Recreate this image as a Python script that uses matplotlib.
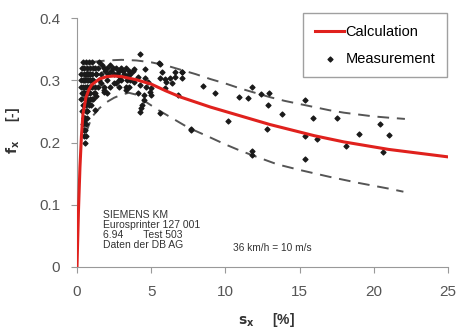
import numpy as np
import matplotlib
matplotlib.use("Agg")
import matplotlib.pyplot as plt

plt.rcParams['font.family'] = ['Liberation Sans', 'DejaVu Sans']

# calculation curve
calc_x = [0, 0.1, 0.2, 0.3, 0.4, 0.6, 0.8, 1.0, 1.5, 2.0, 2.5, 3.0, 4.0, 5.0, 6.0, 7.0,
          8.0, 9.0, 10, 11, 12, 13, 14, 15, 16, 17, 18, 19, 20, 21, 22, 23, 24, 25]
calc_y = [0, 0.09, 0.16, 0.21, 0.245, 0.272, 0.285, 0.293, 0.302, 0.306, 0.307, 0.306, 0.301,
          0.294, 0.283, 0.273, 0.265, 0.257, 0.250, 0.243, 0.236, 0.229, 0.223, 0.217, 0.211,
          0.206, 0.201, 0.197, 0.193, 0.189, 0.186, 0.183, 0.180, 0.177]

# scatter band (dashed)
upper_x = [0.4, 0.6, 0.8, 1.2, 2.0, 3.0, 4.0, 5.0, 6.0, 7.0, 8.0, 9.0, 10, 11, 12, 13, 14, 15,
           16, 17, 18, 19, 20, 21, 22.1]
upper_y = [0.27, 0.305, 0.322, 0.330, 0.332, 0.333, 0.332, 0.329, 0.324, 0.317, 0.310, 0.302,
           0.295, 0.287, 0.280, 0.273, 0.267, 0.262, 0.257, 0.252, 0.248, 0.245, 0.242, 0.240,
           0.238]
lower_x = [0.6, 1.0, 1.5, 2.0, 2.5, 3.0, 3.5, 4.0, 4.6, 5.5, 6.5, 7.5, 9.0, 10, 11, 12, 13.5,
           15, 17, 19, 21, 22]
lower_y = [0.215, 0.241, 0.255, 0.265, 0.272, 0.277, 0.280, 0.277, 0.266, 0.252, 0.238, 0.224,
           0.208, 0.197, 0.187, 0.178, 0.165, 0.156, 0.145, 0.135, 0.126, 0.121]

# measurement points
meas_x = [
    # dense cluster at small slip
    0.25, 0.3, 0.3, 0.35, 0.35, 0.4, 0.4, 0.4, 0.45, 0.45, 0.5, 0.5, 0.5, 0.5, 0.55, 0.55,
    0.55, 0.6, 0.6, 0.6, 0.6, 0.65, 0.65, 0.7, 0.7, 0.7, 0.7, 0.75, 0.75, 0.8, 0.8, 0.8,
    0.85, 0.85, 0.9, 0.9, 0.9, 0.95, 1.0, 1.0, 1.0, 1.05, 1.1, 1.1, 1.15, 1.2, 1.2, 1.25,
    0.3, 0.35, 0.4, 0.45, 0.5, 0.55, 0.6, 0.65, 0.7, 0.75, 0.8, 0.85, 0.9, 1.0, 0.45, 0.6,
    0.5, 0.4, 0.55, 0.65, 0.5, 0.6, 0.7, 0.45, 0.55, 0.5,
    # band along the peak
    1.3, 1.4, 1.5, 1.5, 1.6, 1.7, 1.8, 1.8, 1.9, 2.0, 2.0, 2.1, 2.2, 2.3, 2.4, 2.5, 2.5,
    2.6, 2.7, 2.8, 2.9, 3.0, 3.0, 3.1, 3.2, 3.3, 3.4, 3.5, 3.5, 3.6, 1.4, 1.6, 2.2, 2.8,
    3.3, 3.8, 1.2, 1.8, 2.6, 3.4, 1.0, 1.3, 2.0, 2.8, 3.6, 0.76, 1.2, 1.8, 3.3, 3.5,
    # loose points around 4..8 %
    3.84, 4.1, 4.25, 4.25, 4.6, 4.6, 4.65, 4.8, 5.0, 4.9, 5.0, 4.1, 4.5, 4.5, 4.35, 4.3,
    4.25, 3.84, 5.55, 5.6, 5.7, 5.6, 5.9, 6.0, 6.27, 6.4, 6.6, 6.6, 7.05, 7.05, 7.05, 5.9,
    6.8, 5.6, 7.7, 8.5, 7.7,
    # sparse points at large slip
    9.3, 10.15, 10.9, 11.5, 11.8, 11.8, 11.8, 12.4, 12.8, 12.9, 12.95, 13.8, 15.4, 15.4,
    15.4, 15.9, 16.15, 17.5, 18.1, 19.0, 20.4, 20.6, 21.0,
]
meas_y = [
    0.30, 0.31, 0.27, 0.32, 0.25, 0.33, 0.29, 0.23, 0.31, 0.26, 0.32, 0.28, 0.24, 0.21,
    0.30, 0.27, 0.22, 0.33, 0.31, 0.26, 0.23, 0.29, 0.25, 0.32, 0.30, 0.27, 0.24, 0.31,
    0.28, 0.33, 0.29, 0.26, 0.31, 0.27, 0.32, 0.30, 0.28, 0.26, 0.33, 0.31, 0.29, 0.27,
    0.32, 0.30, 0.28, 0.32, 0.29, 0.31, 0.29, 0.28, 0.30, 0.28, 0.30, 0.29, 0.28, 0.31,
    0.29, 0.30, 0.31, 0.30, 0.29, 0.30, 0.24, 0.25, 0.26, 0.26, 0.24, 0.28, 0.22, 0.21,
    0.25, 0.22, 0.20, 0.235,
    0.31, 0.32, 0.33, 0.30, 0.31, 0.325, 0.32, 0.29, 0.315, 0.32, 0.30, 0.31, 0.325,
    0.315, 0.32, 0.31, 0.295, 0.32, 0.31, 0.315, 0.305, 0.32, 0.30, 0.315, 0.31, 0.32,
    0.30, 0.315, 0.29, 0.31, 0.29, 0.295, 0.29, 0.30, 0.285, 0.315, 0.28, 0.285, 0.295,
    0.305, 0.27, 0.275, 0.28, 0.29, 0.30, 0.263, 0.252, 0.282, 0.29, 0.31,
    0.319, 0.306, 0.342, 0.293, 0.318, 0.303, 0.290, 0.297, 0.288, 0.282, 0.276, 0.279,
    0.276, 0.268, 0.261, 0.255, 0.249, 0.298, 0.328, 0.327, 0.314, 0.303, 0.302, 0.297,
    0.303, 0.295, 0.314, 0.306, 0.314, 0.303, 0.314, 0.287, 0.276, 0.247, 0.220, 0.291,
    0.221,
    0.280, 0.235, 0.273, 0.271, 0.289, 0.187, 0.180, 0.278, 0.221, 0.260, 0.280, 0.246,
    0.269, 0.210, 0.173, 0.239, 0.205, 0.240, 0.194, 0.214, 0.230, 0.185, 0.212,
]

fig = plt.figure(figsize=(4.74, 3.30), dpi=100)
ax = fig.add_axes([0.1624, 0.191, 0.7826, 0.754])

ax.plot(upper_x, upper_y, color='#555555', lw=1.4, dashes=(6, 4))
ax.plot(lower_x, lower_y, color='#555555', lw=1.4, dashes=(6, 4))
ax.scatter(meas_x, meas_y, marker='D', s=6, color='#1a1a1a', zorder=3, label='Measurement')
ax.plot(calc_x, calc_y, color='#e0211d', lw=2.2, zorder=4, label='Calculation')

ax.set_xlim(0, 25)
ax.set_ylim(0, 0.4)
ax.set_xticks([0, 5, 10, 15, 20, 25])
ax.set_yticks([0, 0.1, 0.2, 0.3, 0.4])
ax.set_yticklabels(['0', '0.1', '0.2', '0.3', '0.4'])
for s in ['top', 'right']:
    ax.spines[s].set_visible(False)
for s in ['left', 'bottom']:
    ax.spines[s].set_color('#999999')
ax.tick_params(colors='#999999', labelcolor='#555555', labelsize=11, length=4)
ax.tick_params(axis='x', pad=9)
ax.tick_params(axis='y', pad=8)

ax.set_xlabel(r'$\mathbf{s_x}$     [%]', fontsize=10, fontweight='bold', color='#333333')
ax.set_ylabel(r'$\mathbf{f_x}$     [-]', fontsize=10, fontweight='bold', color='#333333')
ax.xaxis.set_label_coords(0.51, -0.175)
ax.yaxis.set_label_coords(-0.148, 0.55)

ax.text(1.75, 0.091, 'SIEMENS KM\nEurosprinter 127 001\n6.94       Test 503\nDaten der DB AG',
        fontsize=7.5, color='#333333', va='top', linespacing=1.0)
ax.text(10.5, 0.030, '36 km/h = 10 m/s', fontsize=7.3, color='#333333', va='center')

h, l = ax.get_legend_handles_labels()
leg = ax.legend(h[::-1], l[::-1], loc='upper right', bbox_to_anchor=(447 / 474, 1 - 13 / 330),
                bbox_transform=fig.transFigure, fontsize=10.5, frameon=True, fancybox=False,
                edgecolor='#888888', handlelength=2.0, handletextpad=0.1, labelspacing=0.9,
                borderpad=0.8, borderaxespad=0, scatterpoints=1)
leg.get_frame().set_linewidth(1.0)

plt.savefig('out.png', dpi=100)
